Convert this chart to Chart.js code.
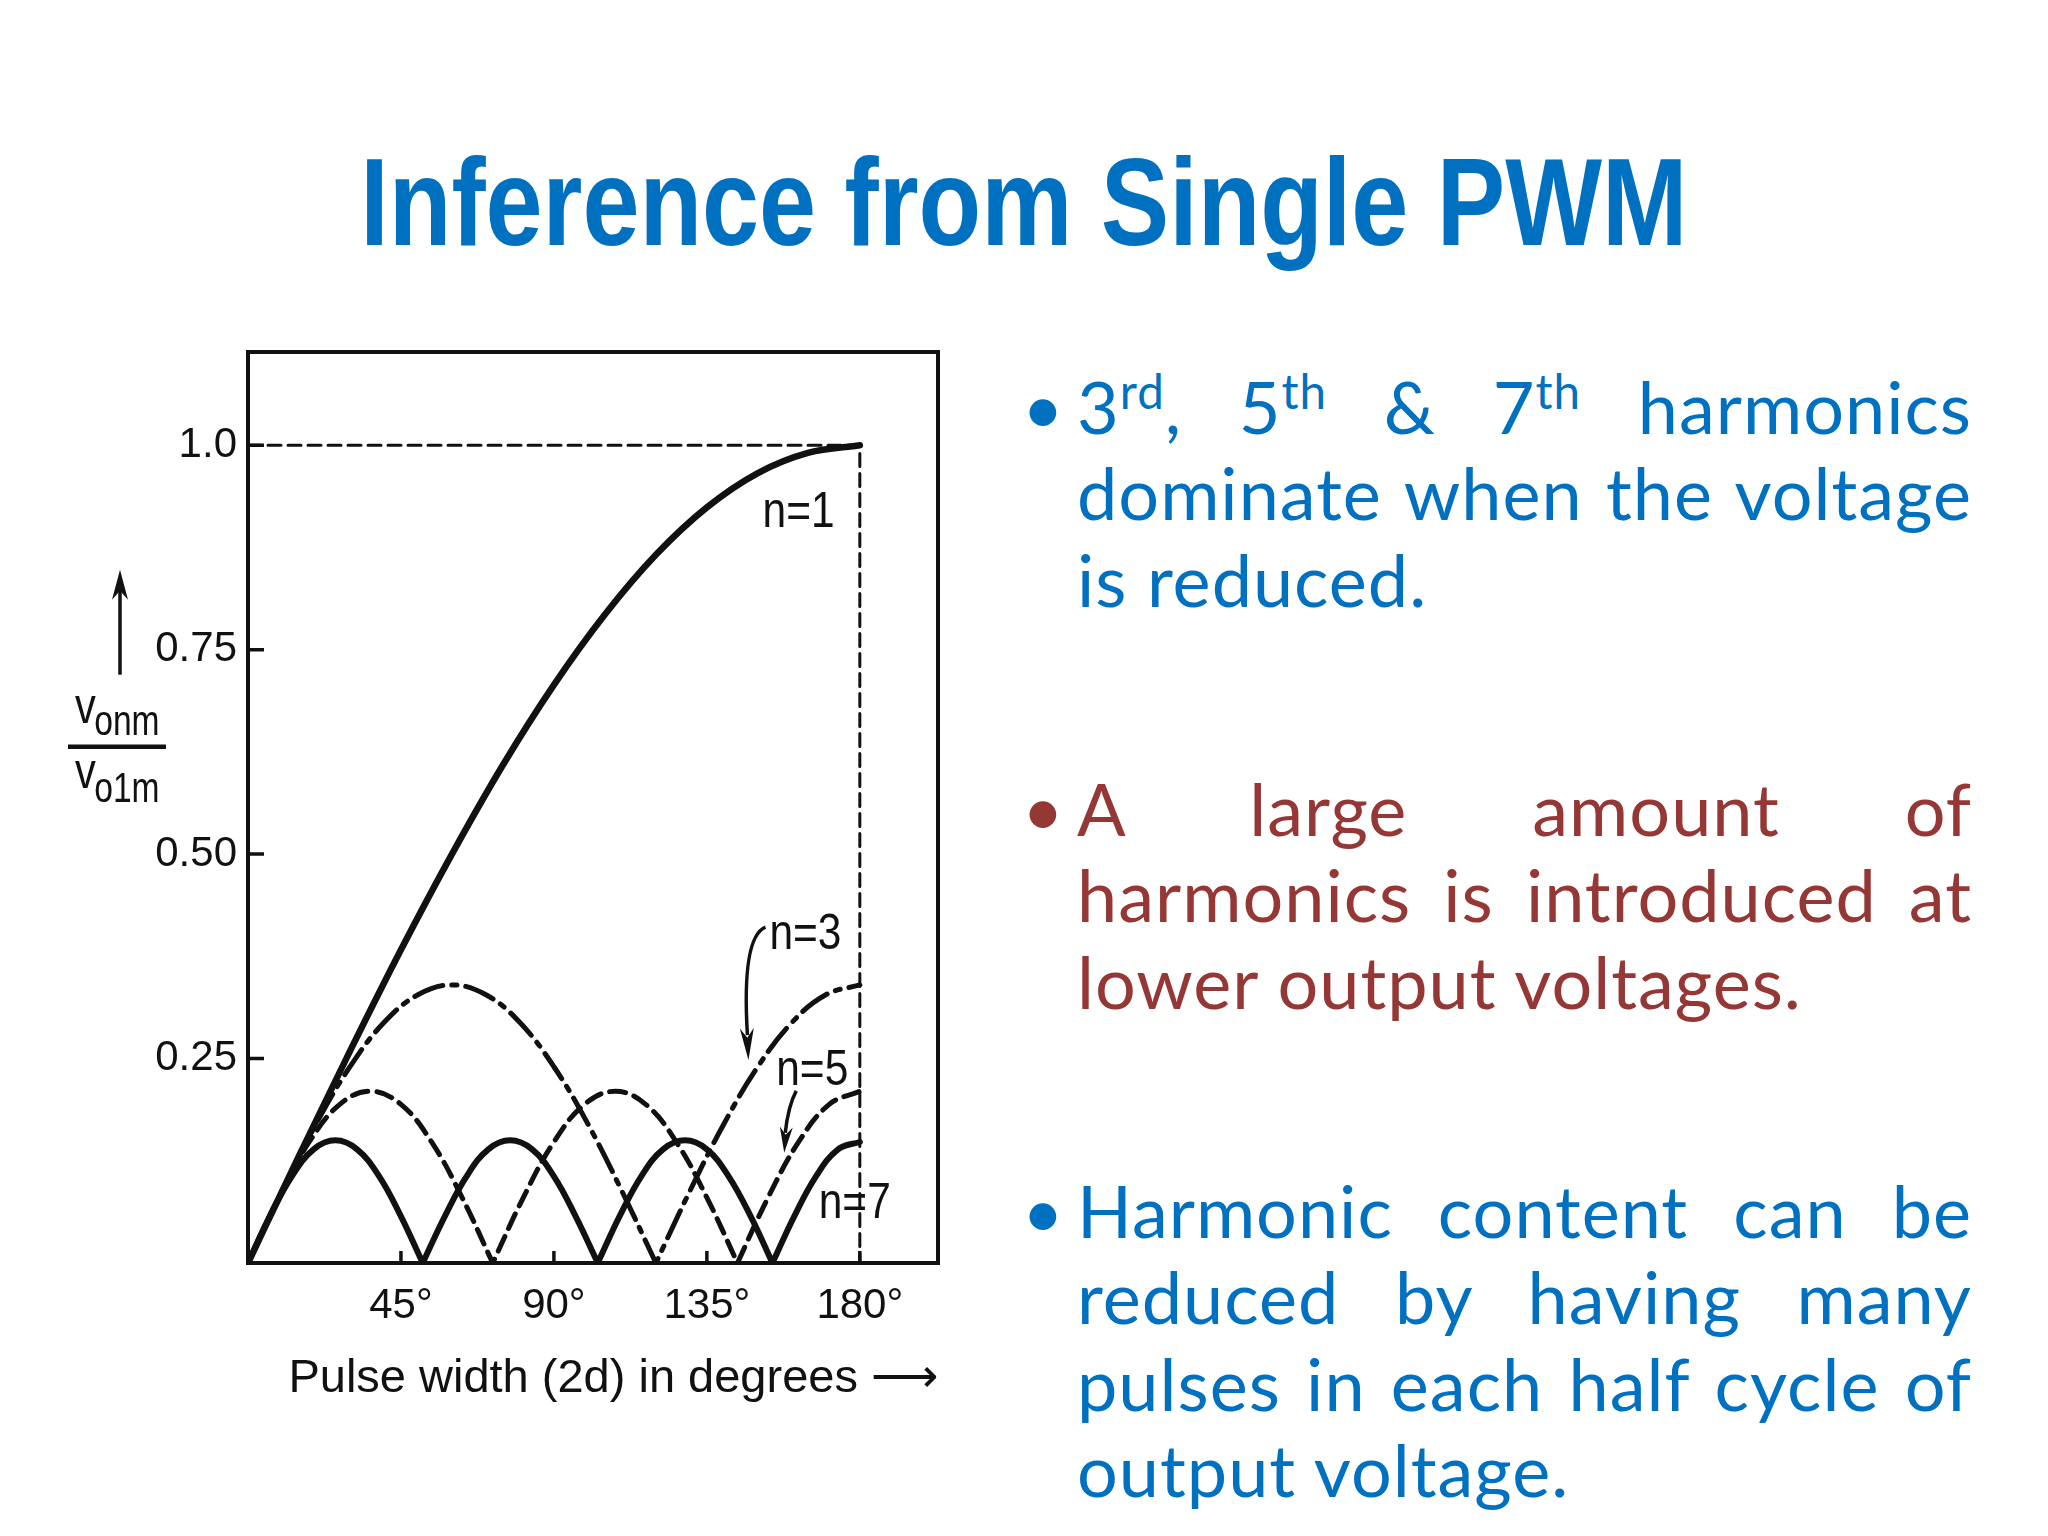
<!DOCTYPE html>
<html lang="en">
<head>
<meta charset="UTF-8">
<title>Inference from Single PWM</title>
<script src="https://cdn.jsdelivr.net/npm/chart.js"></script>
<style>
body {
  margin: 0;
  width: 2048px;
  height: 1536px;
  background: #fff;
  position: relative;
  overflow: hidden;
}
.titulo {
  position: absolute;
  left: 0;
  top: 139px;
  width: 2048px;
  text-align: center;
  font-family: 'Liberation Sans', Arial, sans-serif;
  font-weight: bold;
  font-size: 125px;
  line-height: 125px;
  color: #0070c0;
  white-space: nowrap;
  transform: scaleX(0.82);
  transform-origin: 1023px 0;
}
.grafica {
  position: absolute;
  left: 0;
  top: 300px;
  width: 1000px;
  height: 1160px;
}
.punto {
  position: absolute;
  left: 1077px;
  width: 895px;
  font-family: Lato, 'Open Sans', sans-serif;
  font-size: 72px;
  letter-spacing: 1px;
  line-height: 86.4px;
}
.azul { color: #0070c0; }
.rojo { color: #953735; }
.punto .l { text-align: justify; text-align-last: justify; white-space: nowrap; }
.punto .u { text-align: left; white-space: nowrap; }
.punto sup { font-size: 0.66em; line-height: 0; }
.vineta { position: absolute; left: -55px; top: 0; }
</style>
</head>
<body>
<div class="titulo">Inference from Single PWM</div>

<div class="grafica"><canvas id="graficaPWM"></canvas></div>

<div class="punto azul" style="top:363px">
  <span class="vineta">•</span>
  <div class="l">3<sup>rd</sup>, 5<sup>th</sup> &amp; 7<sup>th</sup> harmonics</div>
  <div class="l">dominate when the voltage</div>
  <div class="u">is reduced.</div>
</div>
<div class="punto rojo" style="top:765px">
  <span class="vineta">•</span>
  <div class="l">A large amount of</div>
  <div class="l">harmonics is introduced at</div>
  <div class="u">lower output voltages.</div>
</div>
<div class="punto azul" style="top:1167px">
  <span class="vineta">•</span>
  <div class="l">Harmonic content can be</div>
  <div class="l">reduced by having many</div>
  <div class="l">pulses in each half cycle of</div>
  <div class="u">output voltage.</div>
</div>

<script>
// valores (ancho de pulso en grados, Vonm/Vo1m)
const gradosN1 = [0, 15, 30, 45, 60, 75, 90, 105, 120, 135, 150, 165, 180];
const valoresN1 = [0, 0.131, 0.259, 0.383, 0.500, 0.609, 0.707, 0.793, 0.866, 0.924, 0.966, 0.991, 1.0];

const gradosN3 = [0, 10, 20, 30, 40, 50, 60, 70, 80, 90, 100, 110, 120, 120, 130, 140, 150, 160, 170, 180];
const valoresN3 = [0, 0.088, 0.170, 0.240, 0.294, 0.328, 0.340, 0.328, 0.294, 0.240, 0.170, 0.088, 0,
                   0, 0.088, 0.170, 0.240, 0.294, 0.328, 0.340];

const gradosN5 = [0, 9, 18, 27, 36, 45, 54, 63, 72, 72, 81, 90, 99, 108, 117, 126, 135, 144, 144, 153, 162, 171, 180];
const valoresN5 = [0, 0.080, 0.148, 0.194, 0.210, 0.194, 0.148, 0.080, 0,
                   0, 0.080, 0.148, 0.194, 0.210, 0.194, 0.148, 0.080, 0,
                   0, 0.080, 0.148, 0.194, 0.210];

const gradosN7 = [0, 6.4, 12.9, 19.3, 25.7, 32.1, 38.6, 45, 51.4, 51.4, 57.9, 64.3, 70.7, 77.1, 83.6, 90, 96.4, 102.9,
                  102.9, 109.3, 115.7, 122.1, 128.6, 135, 141.4, 147.9, 154.3, 154.3, 160.7, 167.1, 173.6, 180];
const valoresN7 = [0, 0.057, 0.106, 0.139, 0.150, 0.139, 0.106, 0.057, 0,
                   0, 0.057, 0.106, 0.139, 0.150, 0.139, 0.106, 0.057, 0,
                   0, 0.057, 0.106, 0.139, 0.150, 0.139, 0.106, 0.057, 0,
                   0, 0.057, 0.106, 0.139, 0.148];

// linea de referencia punteada (1.0 y 180°)
const gradosRef = [0, 180, 180];
const valoresRef = [1.0, 1.0, 0];

const ticksX = [45, 90, 135, 180];
const etiquetasX = ['45°', '90°', '135°', '180°'];
const ticksY = [0.25, 0.5, 0.75, 1.0];
const etiquetasY = ['0.25', '0.50', '0.75', '1.0'];
const rotulos = ['n=1', 'n=3', 'n=5', 'n=7'];

const puntos = (xs, ys) => xs.map((x, i) => ({ x: x, y: ys[i] }));

const tinta = '#111';
const fuente = "'Liberation Sans', Arial, sans-serif";

function flecha(ctx, x, y, ang, largo, ancho) {
  ctx.save();
  ctx.translate(x, y);
  ctx.rotate(ang);
  ctx.beginPath();
  ctx.moveTo(0, 0);
  ctx.lineTo(-largo, -ancho / 2);
  ctx.lineTo(-largo * 0.7, 0);
  ctx.lineTo(-largo, ancho / 2);
  ctx.closePath();
  ctx.fill();
  ctx.restore();
}

const adornos = {
  id: 'adornos',
  afterDatasetsDraw(chart) {
    const ctx = chart.ctx;
    const a = chart.chartArea;
    const sx = chart.scales.x, sy = chart.scales.y;
    ctx.save();
    ctx.strokeStyle = tinta;
    ctx.fillStyle = tinta;

    // marco
    ctx.lineWidth = 4;
    ctx.strokeRect(a.left, a.top, a.right - a.left, a.bottom - a.top);

    // marcas hacia dentro
    ctx.lineWidth = 3.5;
    ctx.beginPath();
    ticksY.forEach(v => {
      const py = sy.getPixelForValue(v);
      ctx.moveTo(a.left, py);
      ctx.lineTo(a.left + 16, py);
    });
    ticksX.forEach(v => {
      const px = sx.getPixelForValue(v);
      ctx.moveTo(px, a.bottom);
      ctx.lineTo(px, a.bottom - 12);
    });
    ctx.stroke();

    // rotulos de las curvas
    ctx.font = '50px ' + fuente;
    ctx.textAlign = 'center';
    ctx.textBaseline = 'middle';
    const pos = [[162, 0.917], [164, 0.401], [166, 0.235], [178.5, 0.072]];
    rotulos.forEach((t, i) => {
      const px = sx.getPixelForValue(pos[i][0]), py = sy.getPixelForValue(pos[i][1]);
      ctx.save();
      ctx.translate(px, py);
      ctx.scale(0.85, 1);
      ctx.fillText(t, 0, 0);
      ctx.restore();
    });

    // flecha n=3
    let lx = sx.getPixelForValue(pos[1][0]), ly = sy.getPixelForValue(pos[1][1]);
    ctx.lineWidth = 3.5;
    ctx.beginPath();
    ctx.moveTo(lx - 40, ly - 8);
    ctx.quadraticCurveTo(lx - 64, ly + 2, lx - 58, ly + 100);
    ctx.stroke();
    flecha(ctx, lx - 57, ly + 125, Math.PI / 2 - 0.05, 32, 14);

    // flecha n=5
    lx = sx.getPixelForValue(pos[2][0]); ly = sy.getPixelForValue(pos[2][1]);
    ctx.beginPath();
    ctx.moveTo(lx - 16, ly + 20);
    ctx.quadraticCurveTo(lx - 24, ly + 35, lx - 27, ly + 62);
    ctx.stroke();
    flecha(ctx, lx - 28, ly + 82, Math.PI / 2 + 0.08, 26, 13);

    // titulo del eje y: flecha y fraccion
    const ref = sy.getPixelForValue(0.75);
    const ax = a.left - 128;
    ctx.lineWidth = 3.5;
    ctx.beginPath();
    ctx.moveTo(ax, ref + 25);
    ctx.lineTo(ax, ref - 60);
    ctx.stroke();
    flecha(ctx, ax, ref - 80, -Math.PI / 2, 30, 16);

    ctx.textAlign = 'left';
    ctx.textBaseline = 'alphabetic';
    const fx = a.left - 173;
    ctx.font = '52px ' + fuente;
    ctx.save();
    ctx.translate(fx, 0);
    ctx.scale(0.8, 1);
    ctx.fillText('v', 0, ref + 73);
    ctx.fillText('v', 0, ref + 138);
    ctx.font = '42px ' + fuente;
    ctx.fillText('onm', 24, ref + 85);
    ctx.fillText('o1m', 24, ref + 152);
    ctx.restore();
    ctx.lineWidth = 4.5;
    ctx.beginPath();
    ctx.moveTo(fx - 7, ref + 97);
    ctx.lineTo(fx + 91, ref + 97);
    ctx.stroke();
    ctx.restore();
  }
};

new Chart(document.getElementById('graficaPWM'), {
  type: 'line',
  data: {
    datasets: [
      { label: 'ref', data: puntos(gradosRef, valoresRef), borderColor: tinta, borderWidth: 3, borderDash: [13, 7], tension: 0 },
      { label: rotulos[0], data: puntos(gradosN1, valoresN1), borderColor: tinta, borderWidth: 6.5, cubicInterpolationMode: 'monotone' },
      { label: rotulos[1], data: puntos(gradosN3, valoresN3), borderColor: tinta, borderWidth: 5, borderDash: [30, 9, 5, 9], tension: 0.4 },
      { label: rotulos[2], data: puntos(gradosN5, valoresN5), borderColor: tinta, borderWidth: 5, borderDash: [16, 9], tension: 0.4 },
      { label: rotulos[3], data: puntos(gradosN7, valoresN7), borderColor: tinta, borderWidth: 6, tension: 0.4 }
    ]
  },
  options: {
    responsive: true,
    maintainAspectRatio: false,
    animation: false,
    layout: { padding: { top: 52, right: 62, left: 0, bottom: 0 } },
    elements: { point: { radius: 0 }, line: { borderCapStyle: 'round', borderJoinStyle: 'round' } },
    plugins: { legend: { display: false }, tooltip: { enabled: false } },
    scales: {
      x: {
        type: 'linear', min: 0, max: 203,
        afterBuildTicks: s => { s.ticks = ticksX.map(v => ({ value: v })); },
        afterFit: s => { s.height = 197; },
        grid: { display: false, drawTicks: false },
        border: { display: false },
        ticks: {
          padding: 18, color: tinta, maxRotation: 0,
          font: { family: fuente, size: 42 },
          callback: (v, i) => etiquetasX[i]
        },
        title: {
          display: true, text: 'Pulse width (2d) in degrees ⟶', align: 'end', color: tinta,
          font: { family: fuente, size: 47 },
          padding: { top: 0, bottom: 53 }
        }
      },
      y: {
        type: 'linear', min: 0, max: 1.114,
        afterBuildTicks: s => { s.ticks = ticksY.map(v => ({ value: v })); },
        afterFit: s => { s.width = 248; },
        grid: { display: false, drawTicks: false },
        border: { display: false },
        ticks: {
          padding: 11, color: tinta,
          font: { family: fuente, size: 42 },
          callback: (v, i) => etiquetasY[i]
        }
      }
    }
  },
  plugins: [adornos]
});
</script>
</body>
</html>
